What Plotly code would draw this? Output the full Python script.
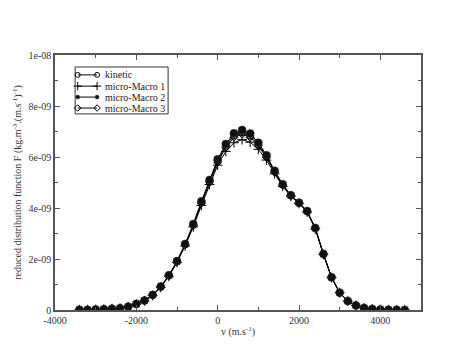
import plotly.graph_objects as go

v = [-3400 + 200 * i for i in range(41)]

micro_macro_2 = [0.01, 0.01, 0.02, 0.03, 0.05, 0.07, 0.13, 0.24, 0.37, 0.59,
                 0.92, 1.36, 1.92, 2.59, 3.37, 4.26, 5.10, 5.91, 6.51, 6.93,
                 7.06, 6.92, 6.56, 6.07, 5.46, 4.93, 4.50, 4.21, 3.88, 3.22,
                 2.20, 1.28, 0.68, 0.35, 0.18, 0.08, 0.04, 0.02, 0.01, 0.005, 0.002]
kinetic = [0.01, 0.01, 0.02, 0.03, 0.05, 0.07, 0.13, 0.24, 0.37, 0.59,
           0.91, 1.35, 1.90, 2.57, 3.34, 4.22, 5.05, 5.85, 6.44, 6.85,
           6.97, 6.84, 6.50, 6.02, 5.43, 4.91, 4.49, 4.20, 3.87, 3.21,
           2.20, 1.28, 0.68, 0.35, 0.18, 0.08, 0.04, 0.02, 0.01, 0.005, 0.002]
micro_macro_1 = [0.01, 0.01, 0.02, 0.03, 0.05, 0.07, 0.13, 0.23, 0.36, 0.57,
                 0.89, 1.32, 1.86, 2.51, 3.26, 4.10, 4.92, 5.68, 6.22, 6.56,
                 6.68, 6.58, 6.30, 5.88, 5.34, 4.85, 4.46, 4.18, 3.84, 3.18,
                 2.18, 1.27, 0.68, 0.35, 0.18, 0.08, 0.04, 0.02, 0.01, 0.005, 0.002]
micro_macro_3 = [0.01, 0.01, 0.02, 0.03, 0.05, 0.07, 0.13, 0.24, 0.37, 0.58,
                 0.91, 1.34, 1.89, 2.55, 3.31, 4.18, 5.00, 5.79, 6.37, 6.77,
                 6.89, 6.77, 6.44, 5.98, 5.40, 4.89, 4.48, 4.19, 3.86, 3.20,
                 2.19, 1.28, 0.68, 0.35, 0.18, 0.08, 0.04, 0.02, 0.01, 0.005, 0.002]

series_names = ["kinetic", "micro-Macro 1", "micro-Macro 2", "micro-Macro 3"]
x_tickvals = [-4000, -2000, 0, 2000, 4000]
x_ticktext = ["-4000", "-2000", "0", "2000", "4000"]
y_tickvals = [0, 2e-9, 4e-9, 6e-9, 8e-9, 1e-8]
y_ticktext = ["0", "2e-09", "4e-09", "6e-09", "8e-09", "1e-08"]
y_minor = [1e-9, 3e-9, 5e-9, 7e-9, 9e-9]
x_minor = [-3000, -1000, 1000, 3000, 5000]

scale = 1e-9
FAM = "Liberation Serif, Times New Roman, serif"
INK = "#333"
AX = "#555"
FS = 10

markers = {
    "kinetic": dict(symbol="circle-open", size=7, color="black", line=dict(width=1, color="black")),
    "micro-Macro 1": dict(symbol="cross-thin-open", size=7, color="black", line=dict(width=1, color="black")),
    "micro-Macro 2": dict(symbol="circle", size=8, color="#111", line=dict(width=0.5, color="#333")),
    "micro-Macro 3": dict(symbol="diamond-open", size=6, color="black", line=dict(width=1, color="black")),
}
legend_markers = {
    "kinetic": dict(symbol="circle-open", size=5, color="black", line=dict(width=1, color="black")),
    "micro-Macro 1": dict(symbol="cross-thin-open", size=6, color="black", line=dict(width=1, color="black")),
    "micro-Macro 2": dict(symbol="circle", size=4, color="#111", line=dict(width=0.5, color="#333")),
    "micro-Macro 3": dict(symbol="diamond-open", size=5, color="black", line=dict(width=1, color="black")),
}
data = {"kinetic": kinetic, "micro-Macro 1": micro_macro_1,
        "micro-Macro 2": micro_macro_2, "micro-Macro 3": micro_macro_3}

fig = go.Figure()
# filled circles drawn last so they sit on top, as in the reference
for name in ["micro-Macro 1", "micro-Macro 3", "kinetic", "micro-Macro 2"]:
    fig.add_trace(go.Scatter(
        x=v, y=[s * scale for s in data[name]], name=name, mode="lines+markers",
        line=dict(color="black", width=1), marker=markers[name], showlegend=False,
    ))

# compact legend box like the reference
box = dict(x0=0.055, x1=0.309, y0=0.769, y1=0.953)
row_y = [0.922, 0.878, 0.835, 0.792]
fig.add_shape(type="rect", xref="paper", yref="paper", **box,
              line=dict(color=INK, width=1), fillcolor="white", layer="below")
for name, ry in zip(series_names, row_y):
    fig.add_trace(go.Scatter(
        x=[0.062, 0.115], y=[ry, ry], xaxis="x2", yaxis="y2", mode="lines+markers",
        line=dict(color="black", width=1), marker=legend_markers[name],
        showlegend=False, hoverinfo="skip", cliponaxis=False,
    ))
    fig.add_annotation(x=0.131, y=ry, xref="paper", yref="paper", text=name,
                       showarrow=False, xanchor="left", yanchor="middle",
                       font=dict(family=FAM, size=FS, color="#222"))

fig.update_layout(
    width=474, height=352,
    margin=dict(l=55, r=53, t=55, b=42),
    paper_bgcolor="white", plot_bgcolor="white",
    font=dict(family=FAM, color=INK, size=FS),
    showlegend=False,
    xaxis=dict(
        range=[-4000, 5000], tickmode="array",
        tickvals=x_tickvals, ticktext=x_ticktext,
        ticks="inside", ticklen=5, tickcolor=AX, tickwidth=1,
        minor=dict(tickvals=x_minor, ticks="inside", ticklen=3, tickcolor=AX),
        showline=True, linecolor=AX, linewidth=1.5, mirror="ticks",
        showgrid=False, zeroline=False,
        title=dict(text="v (m.s<sup>-1</sup>)", standoff=3, font=dict(family=FAM, size=FS)),
        tickfont=dict(family=FAM, size=FS),
    ),
    yaxis=dict(
        range=[0, 1e-8], tickmode="array",
        tickvals=y_tickvals, ticktext=y_ticktext,
        ticks="inside", ticklen=5, tickcolor=AX, tickwidth=1,
        minor=dict(tickvals=y_minor, ticks="inside", ticklen=3, tickcolor=AX),
        showline=True, linecolor=AX, linewidth=1.5, mirror="ticks",
        showgrid=False, zeroline=False,
        title=dict(text="reduced distribution function F (kg.m<sup>-3</sup>.(m.s<sup>-1</sup>)<sup>-1</sup>)",
                   standoff=5, font=dict(family=FAM, size=FS)),
        tickfont=dict(family=FAM, size=FS),
    ),
    xaxis2=dict(overlaying="x", range=[0, 1], visible=False, fixedrange=True),
    yaxis2=dict(overlaying="y", range=[0, 1], visible=False, fixedrange=True),
)

fig.write_html("out.html")
